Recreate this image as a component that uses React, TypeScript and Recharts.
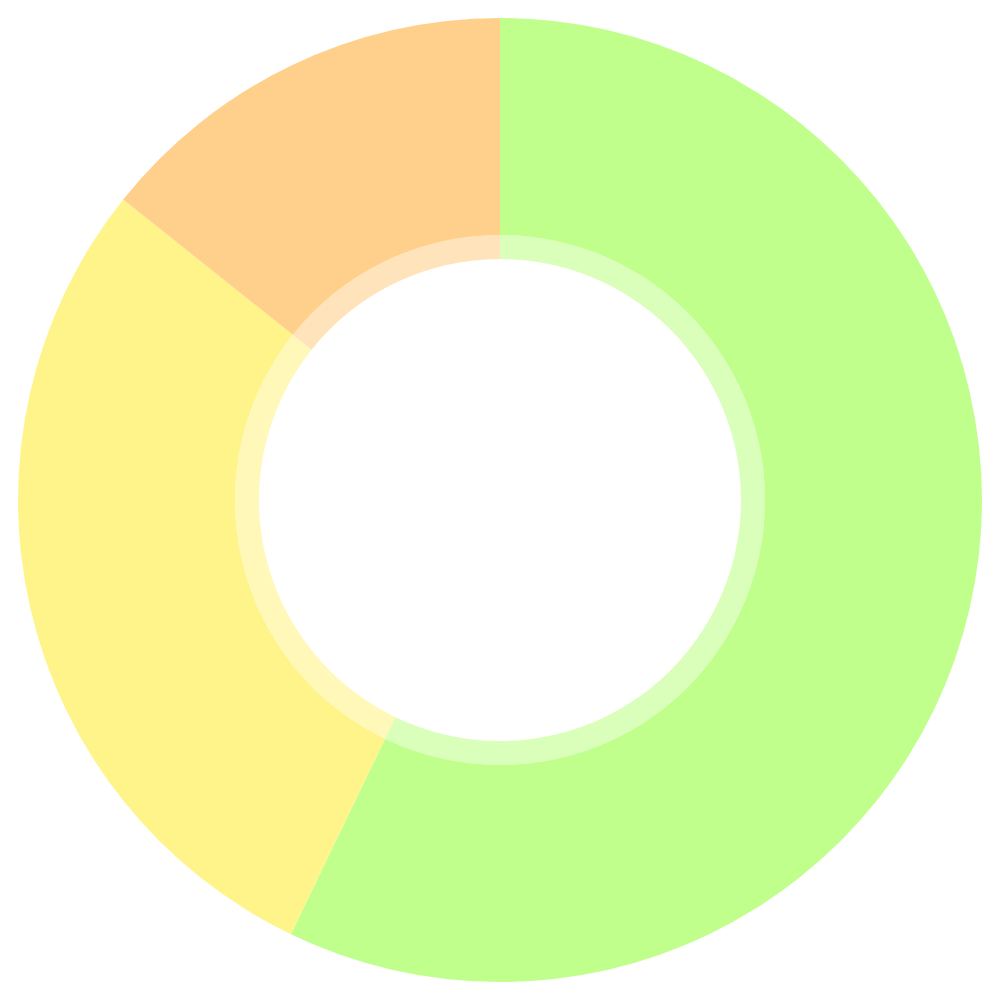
import { PieChart, Pie, Cell } from 'recharts';

const names = ['Green', 'Yellow', 'Orange'];
const values = [4, 2, 1];
const colors = ['#c1ff8c', '#fff48a', '#ffd08c'];

const data = names.map((name, i) => ({ name, value: values[i] }));

export default function App() {
  return (
    <div style={{ position: 'absolute', left: 0, top: 0, width: 1000, height: 1000 }}>
      <PieChart width={1000} height={1000} margin={{ top: 0, right: 0, bottom: 0, left: 0 }}>
        <Pie
          data={data}
          dataKey="value"
          cx={500}
          cy={500}
          innerRadius={265}
          outerRadius={482}
          startAngle={90}
          endAngle={-270}
          stroke="none"
          isAnimationActive={false}
        >
          {data.map((d, i) => (
            <Cell key={d.name} fill={colors[i]} />
          ))}
        </Pie>
        <Pie
          data={data}
          dataKey="value"
          cx={500}
          cy={500}
          innerRadius={241}
          outerRadius={265}
          startAngle={90}
          endAngle={-270}
          stroke="none"
          isAnimationActive={false}
        >
          {data.map((d, i) => (
            <Cell key={d.name} fill={colors[i]} fillOpacity={0.6} />
          ))}
        </Pie>
      </PieChart>
    </div>
  );
}
